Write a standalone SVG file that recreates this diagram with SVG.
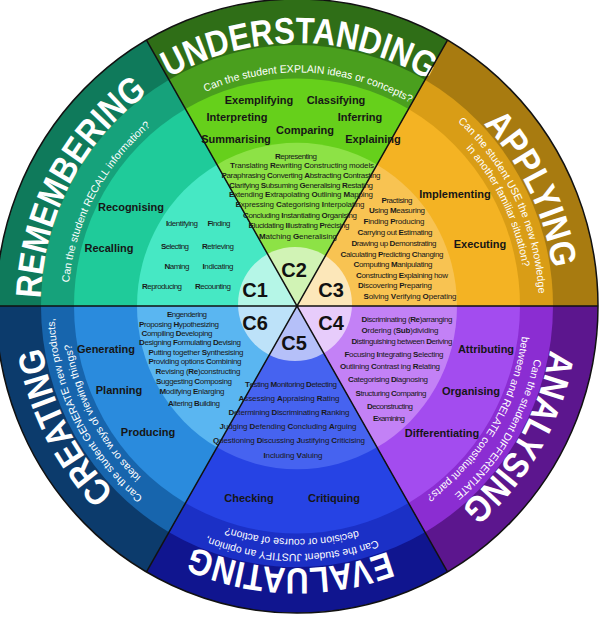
<svg xmlns="http://www.w3.org/2000/svg" width="600" height="630" viewBox="0 0 600 630">
<style>
text{font-family:"Liberation Sans",Arial,sans-serif}
.t{font-size:36px;font-weight:bold;fill:#fff}
.q{font-size:10.5px;fill:#fff}
.v{font-size:11px;font-weight:bold;fill:#161616;text-anchor:middle}
.s{font-size:8px;fill:#1a1a1a;text-anchor:middle}
.b{font-weight:bold}
.c{font-size:20px;font-weight:bold;fill:#111;text-anchor:middle}
.dv{stroke:#111;stroke-width:1.5;fill:none}
</style>
<defs>
<path id="pU" d="M-257.99,-2.25 A258,258 0 0 1 257.99,2.25"/>
<path id="pA" d="M-113.1,-231.9 A258,258 0 0 1 113.1,231.9"/>
<path id="pN" d="M129,-223.43 A258,258 0 0 1 -129,223.43"/>
<path id="pE" d="M257.91,6.75 A258,258 0 0 1 -257.91,-6.75"/>
<path id="pC" d="M117.13,229.88 A258,258 0 0 1 -117.13,-229.88"/>
<path id="pR" d="M-121.13,227.79 A258,258 0 0 1 121.13,-227.79"/>
<path id="qU" d="M-228.69,-11.99 A229,229 0 0 1 228.69,11.99"/>
<path id="qR" d="M-108.45,203.95 A231,231 0 0 1 108.45,-203.95"/>
<path id="qA1" d="M-105,-219.14 A243,243 0 0 1 105,219.14"/>
<path id="qA2" d="M-100.39,-205.83 A229,229 0 0 1 100.39,205.83"/>
<path id="qN1" d="M125.15,-208.3 A243,243 0 0 1 -125.15,208.3"/>
<path id="qN2" d="M119.31,-195.45 A229,229 0 0 1 -119.31,195.45"/>
<path id="qE1" d="M242.95,5.09 A243,243 0 0 1 -242.95,-5.09"/>
<path id="qE2" d="M228.94,5.2 A229,229 0 0 1 -228.94,-5.2"/>
<path id="qC1" d="M109.18,217.1 A243,243 0 0 1 -109.18,-217.1"/>
<path id="qC2" d="M108.23,201.82 A229,229 0 0 1 -108.23,-201.82"/>
</defs>
<rect width="600" height="630" fill="#fff"/>

<g id="applying">
<g transform="translate(297,306) scale(1,1.02)">
<path d="M0,0 L150.5,-260.67 A301,301 0 0 1 301,0 Z" fill="#a87b10"/>
<path d="M0,0 L128,-221.7 A256,256 0 0 1 256,0 Z" fill="#d99d16"/>
<path d="M0,0 L111.5,-193.13 A223,223 0 0 1 223,0 Z" fill="#f4b323"/>
<path d="M0,0 L80,-138.56 A160,160 0 0 1 160,0 Z" fill="#f8c352"/>
<text class="t" text-anchor="middle"><textPath href="#pA" startOffset="50%" textLength="160" lengthAdjust="spacingAndGlyphs">APPLYING</textPath></text>
<text class="q" text-anchor="middle"><textPath href="#qA1" startOffset="50%">Can the student USE the new knowledge</textPath></text>
<text class="q" text-anchor="middle"><textPath href="#qA2" startOffset="50%">in another familiar situation?</textPath></text>
</g>
</g>

<g id="analysing">
<g transform="translate(297,306) scale(1,1.02)">
<path d="M0,0 L301,0 A301,301 0 0 1 150.5,260.67 Z" fill="#5c168e"/>
<path d="M0,0 L256,0 A256,256 0 0 1 128,221.7 Z" fill="#8b2dd2"/>
<path d="M0,0 L223,0 A223,223 0 0 1 111.5,193.13 Z" fill="#a34cef"/>
<path d="M0,0 L160,0 A160,160 0 0 1 80,138.56 Z" fill="#c381f6"/>
<text class="t" text-anchor="middle"><textPath href="#pN" startOffset="50%" textLength="182" lengthAdjust="spacingAndGlyphs">ANALYSING</textPath></text>
<text class="q" text-anchor="middle"><textPath href="#qN1" startOffset="50%">Can the student DIFFERENTIATE</textPath></text>
<text class="q" text-anchor="middle"><textPath href="#qN2" startOffset="50%">between and RELATE constituent parts?</textPath></text>
</g>
</g>

<g id="evaluating">
<g transform="translate(297,306) scale(1,1.02)">
<path d="M0,0 L150.5,260.67 A301,301 0 0 1 -150.5,260.67 Z" fill="#10158f"/>
<path d="M0,0 L128,221.7 A256,256 0 0 1 -128,221.7 Z" fill="#1b30c6"/>
<path d="M0,0 L111.5,193.13 A223,223 0 0 1 -111.5,193.13 Z" fill="#2643e4"/>
<path d="M0,0 L80,138.56 A160,160 0 0 1 -80,138.56 Z" fill="#4663f0"/>
<text class="t" text-anchor="middle"><textPath href="#pE" startOffset="50%" textLength="200" lengthAdjust="spacingAndGlyphs">EVALUATING</textPath></text>
<text class="q" text-anchor="middle"><textPath href="#qE1" startOffset="50%">Can the student JUSTIFY an opinion,</textPath></text>
<text class="q" text-anchor="middle"><textPath href="#qE2" startOffset="50%">decision or course of action?</textPath></text>
</g>
</g>

<g id="creating">
<g transform="translate(297,306) scale(1,1.02)">
<path d="M0,0 L-150.5,260.67 A301,301 0 0 1 -301,0 Z" fill="#0c3b6c"/>
<path d="M0,0 L-128,221.7 A256,256 0 0 1 -256,0 Z" fill="#1765ad"/>
<path d="M0,0 L-111.5,193.13 A223,223 0 0 1 -223,0 Z" fill="#2a8bdd"/>
<path d="M0,0 L-80,138.56 A160,160 0 0 1 -160,0 Z" fill="#5ab6f1"/>
<text class="t" text-anchor="middle"><textPath href="#pC" startOffset="50%" textLength="162" lengthAdjust="spacingAndGlyphs">CREATING</textPath></text>
<text class="q" text-anchor="middle"><textPath href="#qC1" startOffset="50%">Can the student GENERATE new products,</textPath></text>
<text class="q" text-anchor="middle"><textPath href="#qC2" startOffset="50%">ideas or ways of viewing things?</textPath></text>
</g>
</g>

<g id="remembering">
<g transform="translate(297,306) scale(1,1.02)">
<path d="M0,0 L-301,0 A301,301 0 0 1 -150.5,-260.67 Z" fill="#0f7a5b"/>
<path d="M0,0 L-256,0 A256,256 0 0 1 -128,-221.7 Z" fill="#16a27b"/>
<path d="M0,0 L-223,0 A223,223 0 0 1 -111.5,-193.13 Z" fill="#1fcb9a"/>
<path d="M0,0 L-160,0 A160,160 0 0 1 -80,-138.56 Z" fill="#46e8c4"/>
<text class="t" text-anchor="middle"><textPath href="#pR" startOffset="50%" textLength="236" lengthAdjust="spacingAndGlyphs">REMEMBERING</textPath></text>
<text class="q" text-anchor="middle"><textPath href="#qR" startOffset="50%">Can the student RECALL information?</textPath></text>
</g>
</g>

<g id="understanding">
<g transform="translate(297,306) scale(1,1.02)">
<path d="M0,0 L-150.5,-260.67 A301,301 0 0 1 150.5,-260.67 Z" fill="#2f6e17"/>
<path d="M0,0 L-128,-221.7 A256,256 0 0 1 128,-221.7 Z" fill="#4a9f1e"/>
<path d="M0,0 L-111.5,-193.13 A223,223 0 0 1 111.5,-193.13 Z" fill="#66d01b"/>
<path d="M0,0 L-80,-138.56 A160,160 0 0 1 80,-138.56 Z" fill="#8de246"/>
<text class="t" text-anchor="middle"><textPath href="#pU" startOffset="50%" textLength="272" lengthAdjust="spacingAndGlyphs">UNDERSTANDING</textPath></text>
<text class="q" text-anchor="middle"><textPath href="#qU" startOffset="50%">Can the student EXPLAIN ideas or concepts?</textPath></text>
</g>
</g>

<g id="core">
<circle cx="295" cy="304" r="57" fill="#fff" fill-opacity="0.6"/>
</g>

<g id="connectors" transform="translate(297,306) scale(1,1.02)">
<path class="dv" d="M-301,0 L301,0 M-150.5,-260.67 L150.5,260.67 M150.5,-260.67 L-150.5,260.67"/>
<circle r="301" class="dv" stroke-width="2"/>
</g>

<g id="understanding-verbs">
<text class="v" x="259" y="104">Exemplifying</text>
<text class="v" x="336" y="104">Classifying</text>
<text class="v" x="237" y="121">Interpreting</text>
<text class="v" x="360" y="121">Inferring</text>
<text class="v" x="305" y="134">Comparing</text>
<text class="v" x="236" y="143">Summarising</text>
<text class="v" x="373" y="143">Explaining</text>
<text class="s" x="296" y="159" textLength="42"><tspan class="b">R</tspan>epresenting</text>
<text class="s" x="302" y="168" textLength="144"><tspan class="b">T</tspan>ranslating <tspan class="b">R</tspan>ewriting <tspan class="b">C</tspan>onstructing models</text>
<text class="s" x="301" y="178" textLength="159"><tspan class="b">P</tspan>araphrasing <tspan class="b">C</tspan>onverting <tspan class="b">A</tspan>bstracting <tspan class="b">C</tspan>ontrasting</text>
<text class="s" x="301" y="188" textLength="144"><tspan class="b">C</tspan>larifying <tspan class="b">S</tspan>ubsuming <tspan class="b">G</tspan>eneralising <tspan class="b">R</tspan>estating</text>
<text class="s" x="301" y="197" textLength="144"><tspan class="b">E</tspan>xtending <tspan class="b">E</tspan>xtrapolating <tspan class="b">O</tspan>utlining <tspan class="b">M</tspan>apping</text>
<text class="s" x="300" y="207" textLength="129"><tspan class="b">E</tspan>xpressing <tspan class="b">C</tspan>ategorising <tspan class="b">I</tspan>nterpolating</text>
<text class="s" x="300" y="218" textLength="114"><tspan class="b">C</tspan>oncluding <tspan class="b">I</tspan>nstantiating <tspan class="b">O</tspan>rganising</text>
<text class="s" x="299" y="228" textLength="101"><tspan class="b">E</tspan>lucidating <tspan class="b">I</tspan>llustrating <tspan class="b">P</tspan>récising</text>
<text class="s" x="298" y="239" textLength="78"><tspan class="b">M</tspan>atching <tspan class="b">G</tspan>eneralising</text>
</g>

<g id="remembering-verbs">
<text class="v" x="131" y="211">Recognising</text>
<text class="v" x="109" y="252">Recalling</text>
<text class="s" x="182" y="226" textLength="32"><tspan class="b">I</tspan>dentifying</text>
<text class="s" x="219" y="226" textLength="23"><tspan class="b">F</tspan>inding</text>
<text class="s" x="175" y="249" textLength="28"><tspan class="b">S</tspan>electing</text>
<text class="s" x="218" y="249" textLength="32"><tspan class="b">R</tspan>etrieving</text>
<text class="s" x="177" y="269" textLength="25"><tspan class="b">N</tspan>aming</text>
<text class="s" x="218" y="269" textLength="31"><tspan class="b">I</tspan>ndicating</text>
<text class="s" x="162" y="289" textLength="40"><tspan class="b">R</tspan>eproducing</text>
<text class="s" x="213" y="289" textLength="36"><tspan class="b">R</tspan>ecounting</text>
</g>

<g id="applying-verbs">
<text class="v" x="455" y="198">Implementing</text>
<text class="v" x="480" y="248">Executing</text>
<text class="s" x="397" y="203" textLength="31"><tspan class="b">P</tspan>ractising</text>
<text class="s" x="397" y="213" textLength="56"><tspan class="b">U</tspan>sing <tspan class="b">M</tspan>easuring</text>
<text class="s" x="394" y="224" textLength="61"><tspan class="b">F</tspan>inding <tspan class="b">P</tspan>roducing</text>
<text class="s" x="395" y="235" textLength="75"><tspan class="b">C</tspan>arrying out <tspan class="b">E</tspan>stimating</text>
<text class="s" x="394" y="246" textLength="85"><tspan class="b">D</tspan>rawing up <tspan class="b">D</tspan>emonstrating</text>
<text class="s" x="392" y="257" textLength="103"><tspan class="b">C</tspan>alculating <tspan class="b">P</tspan>redicting <tspan class="b">C</tspan>hanging</text>
<text class="s" x="393" y="267" textLength="79"><tspan class="b">C</tspan>omputing <tspan class="b">M</tspan>anipulating</text>
<text class="s" x="402" y="278" textLength="92"><tspan class="b">C</tspan>onstructing <tspan class="b">E</tspan>xplaining how</text>
<text class="s" x="395" y="288" textLength="74"><tspan class="b">D</tspan>iscovering <tspan class="b">P</tspan>reparing</text>
<text class="s" x="410" y="299" textLength="93"><tspan class="b">S</tspan>olving <tspan class="b">V</tspan>erifying <tspan class="b">O</tspan>perating</text>
</g>

<g id="analysing-verbs">
<text class="v" x="486" y="353">Attributing</text>
<text class="v" x="471" y="395">Organising</text>
<text class="v" x="442" y="437">Differentiating</text>
<text class="s" x="407" y="322" textLength="91"><tspan class="b">D</tspan>iscriminating (<tspan class="b">Re</tspan>)arranging</text>
<text class="s" x="400" y="333" textLength="77"><tspan class="b">O</tspan>rdering (<tspan class="b">Sub</tspan>)dividing</text>
<text class="s" x="402" y="344" textLength="101"><tspan class="b">D</tspan>istinguishing between <tspan class="b">D</tspan>eriving</text>
<text class="s" x="394" y="357" textLength="99"><tspan class="b">F</tspan>ocusing <tspan class="b">I</tspan>ntegrating <tspan class="b">S</tspan>electing</text>
<text class="s" x="390" y="369" textLength="100"><tspan class="b">O</tspan>utlining <tspan class="b">C</tspan>ontrast ing <tspan class="b">R</tspan>elating</text>
<text class="s" x="388" y="382" textLength="80"><tspan class="b">C</tspan>ategorising <tspan class="b">D</tspan>iagnosing</text>
<text class="s" x="391" y="396" textLength="71"><tspan class="b">S</tspan>tructuring <tspan class="b">C</tspan>omparing</text>
<text class="s" x="390" y="409" textLength="46"><tspan class="b">D</tspan>econstructing</text>
<text class="s" x="389" y="421" textLength="32"><tspan class="b">E</tspan>xamining</text>
</g>

<g id="evaluating-verbs">
<text class="v" x="249" y="502">Checking</text>
<text class="v" x="334" y="502">Critiquing</text>
<text class="s" x="291" y="387" textLength="92"><tspan class="b">T</tspan>esting <tspan class="b">M</tspan>onitoring <tspan class="b">D</tspan>etecting</text>
<text class="s" x="289" y="401" textLength="101"><tspan class="b">A</tspan>ssessing <tspan class="b">A</tspan>ppraising <tspan class="b">R</tspan>ating</text>
<text class="s" x="289" y="415" textLength="121"><tspan class="b">D</tspan>etermining <tspan class="b">D</tspan>iscriminating <tspan class="b">R</tspan>anking</text>
<text class="s" x="288" y="429" textLength="137"><tspan class="b">J</tspan>udging <tspan class="b">D</tspan>efending <tspan class="b">C</tspan>oncluding <tspan class="b">A</tspan>rguing</text>
<text class="s" x="289" y="443" textLength="152"><tspan class="b">Q</tspan>uestioning <tspan class="b">D</tspan>iscussing <tspan class="b">J</tspan>ustifying <tspan class="b">C</tspan>riticising</text>
<text class="s" x="293" y="458" textLength="59"><tspan class="b">I</tspan>ncluding <tspan class="b">V</tspan>aluing</text>
</g>

<g id="creating-verbs">
<text class="v" x="106" y="353">Generating</text>
<text class="v" x="119" y="394">Planning</text>
<text class="v" x="148" y="436">Producing</text>
<text class="s" x="187" y="317" textLength="40"><tspan class="b">E</tspan>ngendering</text>
<text class="s" x="179" y="327" textLength="80"><tspan class="b">P</tspan>roposing <tspan class="b">H</tspan>ypothesizing</text>
<text class="s" x="177" y="336" textLength="71"><tspan class="b">C</tspan>ompiling <tspan class="b">D</tspan>eveloping</text>
<text class="s" x="190" y="345" textLength="102"><tspan class="b">D</tspan>esigning <tspan class="b">F</tspan>ormulating <tspan class="b">D</tspan>evising</text>
<text class="s" x="196" y="355" textLength="95"><tspan class="b">P</tspan>utting together <tspan class="b">S</tspan>ynthesising</text>
<text class="s" x="195" y="364" textLength="93"><tspan class="b">P</tspan>roviding options <tspan class="b">C</tspan>ombining</text>
<text class="s" x="198" y="374" textLength="85"><tspan class="b">R</tspan>evising (<tspan class="b">Re</tspan>)constructing</text>
<text class="s" x="194" y="384" textLength="76"><tspan class="b">S</tspan>uggesting <tspan class="b">C</tspan>omposing</text>
<text class="s" x="192" y="394" textLength="65"><tspan class="b">M</tspan>odifying <tspan class="b">E</tspan>nlarging</text>
<text class="s" x="194" y="406" textLength="52"><tspan class="b">A</tspan>ltering <tspan class="b">B</tspan>uilding</text>
</g>

<g id="core-labels">
<text class="c" x="255" y="297">C1</text>
<text class="c" x="294" y="277">C2</text>
<text class="c" x="331" y="297">C3</text>
<text class="c" x="331" y="330">C4</text>
<text class="c" x="294" y="350">C5</text>
<text class="c" x="255" y="330">C6</text>
</g>
</svg>
